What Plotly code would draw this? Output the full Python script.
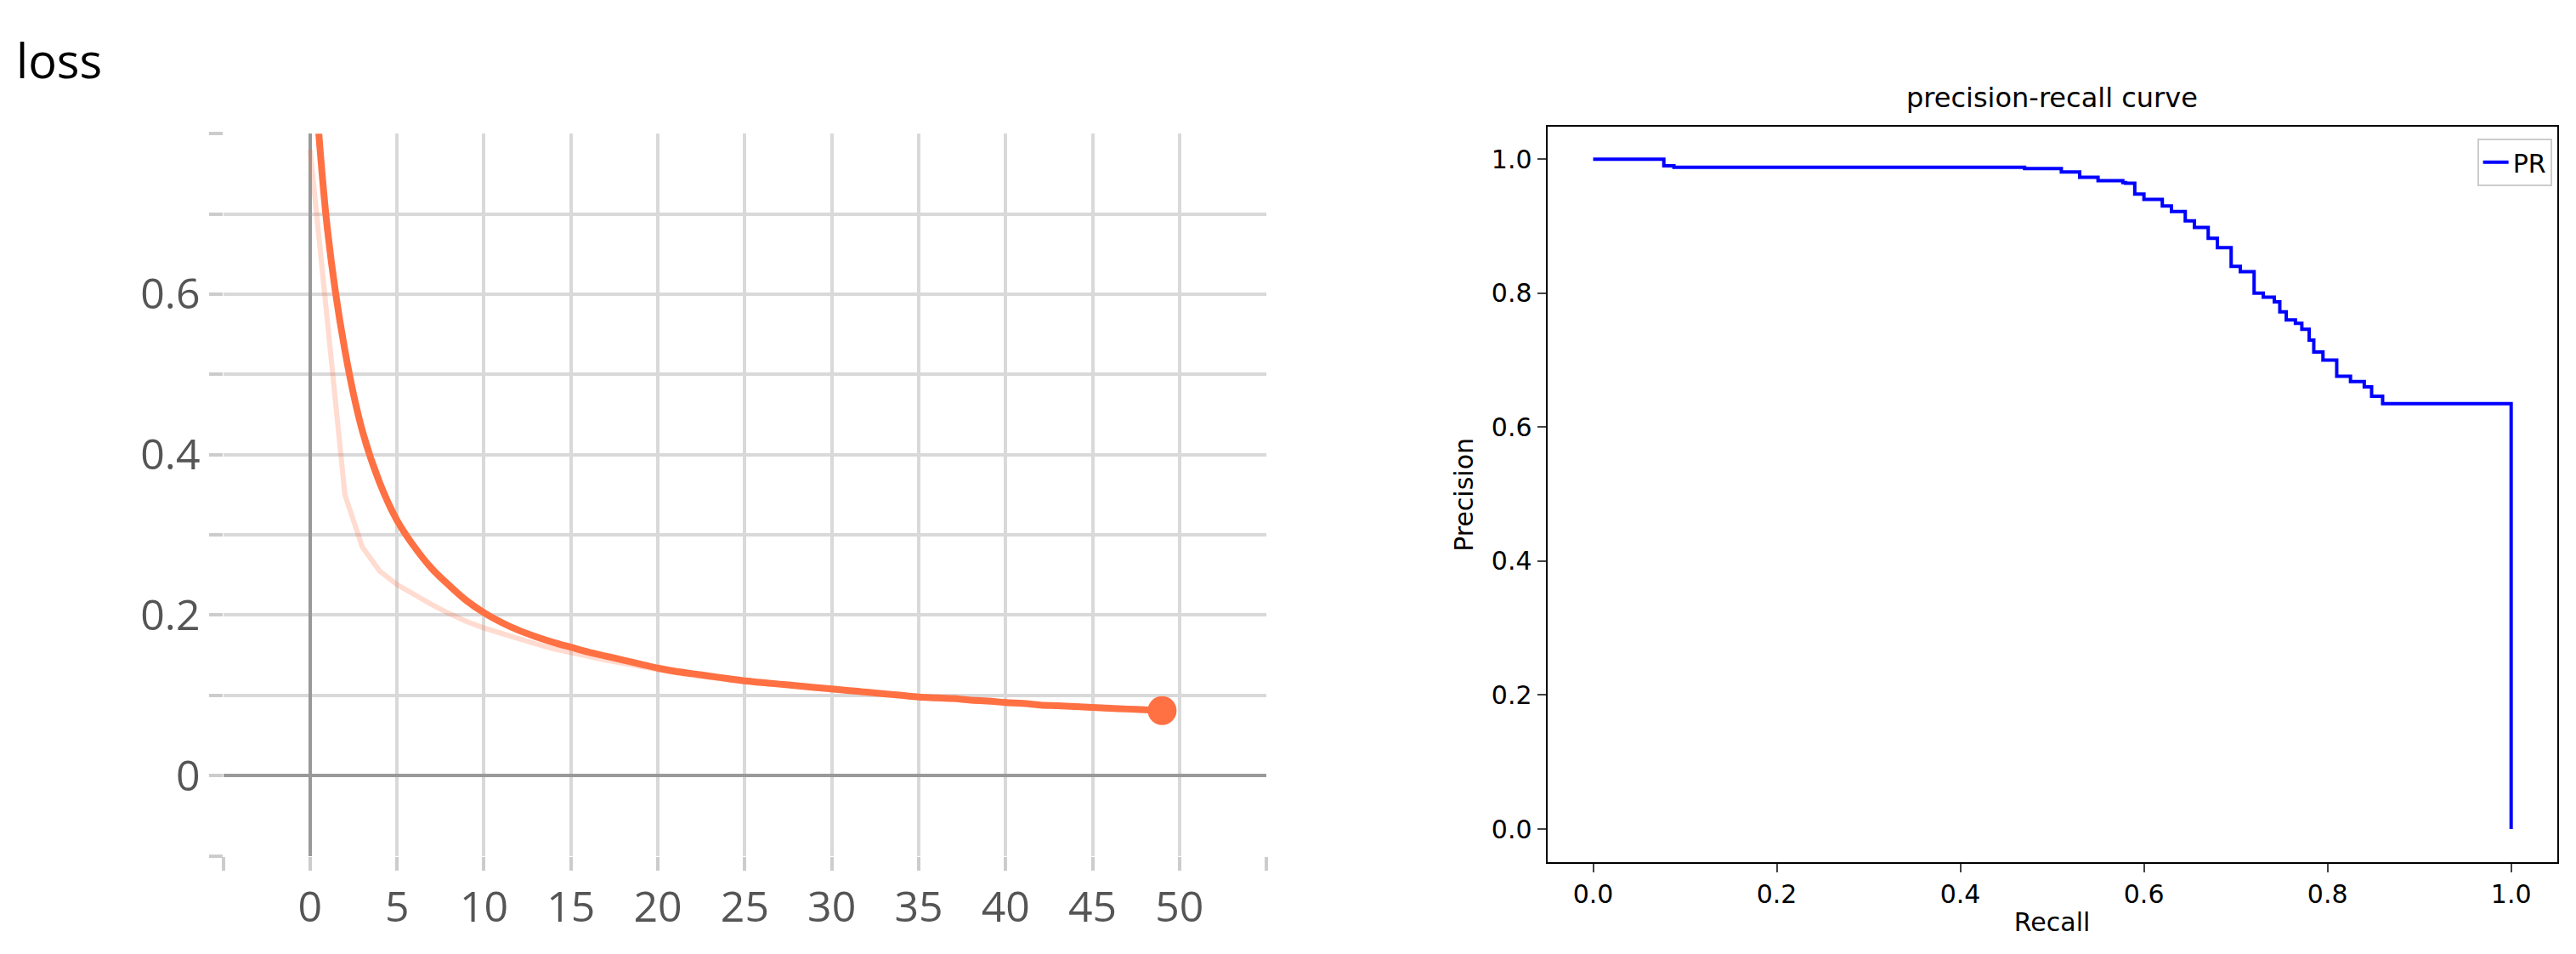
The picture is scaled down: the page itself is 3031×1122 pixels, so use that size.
import plotly.graph_objects as go

# loss curve (TensorBoard style): smoothed and raw
steps = list(range(50))
loss_smooth = [0.95, 0.68, 0.53, 0.43, 0.365, 0.318, 0.285, 0.258, 0.237, 0.218,
               0.203, 0.191, 0.181, 0.173, 0.166, 0.160, 0.154, 0.149, 0.144, 0.139,
               0.134, 0.130, 0.127, 0.124, 0.121, 0.118, 0.116, 0.114, 0.112, 0.110,
               0.108, 0.106, 0.104, 0.102, 0.100, 0.098, 0.097, 0.096, 0.094, 0.093,
               0.091, 0.090, 0.088, 0.087, 0.086, 0.085, 0.084, 0.083, 0.082, 0.081]
loss_raw = [0.78, 0.56, 0.35, 0.285, 0.255, 0.238, 0.225, 0.213, 0.202, 0.192,
            0.184, 0.177, 0.170, 0.164, 0.158, 0.153, 0.148, 0.144, 0.140, 0.136,
            0.131, 0.128, 0.125, 0.122, 0.119, 0.117, 0.115, 0.113, 0.111, 0.109,
            0.107, 0.105, 0.103, 0.101, 0.099, 0.097, 0.096, 0.095, 0.093, 0.092,
            0.090, 0.089, 0.088, 0.086, 0.085, 0.084, 0.083, 0.082, 0.081, 0.080]

# precision-recall curve
recall = [0.0, 0.077, 0.077, 0.088, 0.088, 0.43, 0.47, 0.51, 0.53, 0.55, 0.577, 0.58,
          0.59, 0.6, 0.62, 0.63, 0.645, 0.655, 0.67, 0.68, 0.695, 0.705, 0.72, 0.73,
          0.742, 0.748, 0.755, 0.765, 0.772, 0.78, 0.785, 0.795, 0.81, 0.825,
          0.84, 0.848, 0.86, 1.0]
precision = [1.0, 1.0, 0.99, 0.99, 0.988, 0.988, 0.986, 0.981, 0.973, 0.968, 0.965, 0.964,
             0.948, 0.94, 0.93, 0.922, 0.908, 0.898, 0.882, 0.868, 0.84, 0.832, 0.80, 0.794,
             0.787, 0.772, 0.76, 0.755, 0.746, 0.73, 0.712, 0.700, 0.676, 0.668,
             0.66, 0.646, 0.635, 0.0]

fig = go.Figure()
orange = "#ff7043"
fig.add_trace(go.Scatter(x=steps, y=loss_raw, mode="lines", line=dict(color="rgba(255,112,67,0.25)", width=6),
                         showlegend=False, xaxis="x", yaxis="y"))
fig.add_trace(go.Scatter(x=steps, y=loss_smooth, mode="lines", line=dict(color=orange, width=8),
                         line_shape="spline", showlegend=False, xaxis="x", yaxis="y"))
fig.add_trace(go.Scatter(x=[steps[-1]], y=[loss_smooth[-1]], mode="markers",
                         marker=dict(color=orange, size=34), showlegend=False, xaxis="x", yaxis="y"))
fig.add_trace(go.Scatter(x=recall, y=precision, mode="lines", name="PR", line_shape="hv",
                         line=dict(color="blue", width=4), xaxis="x2", yaxis="y2"))

xt = list(range(-5, 60, 5))
yt = [round(-0.1 + 0.1 * i, 1) for i in range(10)]
ylab = {0.0: "0", 0.2: "0.2", 0.4: "0.4", 0.6: "0.6"}
left_font = dict(family="Open Sans", size=50, color="#555555")
mpl_font = dict(family="DejaVu Sans", size=30, color="black")

fig.update_layout(
    width=3031, height=1122, paper_bgcolor="white", plot_bgcolor="white",
    margin=dict(l=0, r=0, t=0, b=0),
    xaxis=dict(domain=[0.084, 0.489], range=[-5, 55], tickvals=xt,
               ticktext=["" if v in (-5, 55) else str(v) for v in xt],
               showgrid=True, gridcolor="#d9d9d9", gridwidth=4,
               zeroline=True, zerolinecolor="#999999", zerolinewidth=4,
               ticks="outside", ticklen=16, tickcolor="#cccccc", tickwidth=4,
               tickfont=left_font, showline=False),
    yaxis=dict(domain=[0.11, 0.867], range=[-0.1, 0.8], tickvals=yt,
               ticktext=[ylab.get(v, "") for v in yt],
               showgrid=True, gridcolor="#d9d9d9", gridwidth=4,
               zeroline=True, zerolinecolor="#999999", zerolinewidth=4,
               ticks="outside", ticklen=16, tickcolor="#cccccc", tickwidth=4,
               tickfont=left_font, showline=False),
    xaxis2=dict(domain=[0.598, 0.990], range=[-0.05, 1.05], anchor="y2",
                tickvals=[0, 0.2, 0.4, 0.6, 0.8, 1.0], tickformat=".1f",
                showgrid=False, zeroline=False, showline=True, mirror=True,
                linecolor="black", linewidth=2, ticks="outside", ticklen=10, tickwidth=2,
                tickfont=mpl_font, title=dict(text="Recall", font=mpl_font, standoff=6)),
    yaxis2=dict(domain=[0.103, 0.874], range=[-0.05, 1.048], anchor="x2",
                tickvals=[0, 0.2, 0.4, 0.6, 0.8, 1.0], tickformat=".1f",
                showgrid=False, zeroline=False, showline=True, mirror=True,
                linecolor="black", linewidth=2, ticks="outside", ticklen=10, tickwidth=2,
                tickfont=mpl_font, title=dict(text="Precision", font=mpl_font, standoff=12)),
    legend=dict(x=0.988, y=0.862, xanchor="right", yanchor="top", bgcolor="white",
                bordercolor="#cccccc", borderwidth=2, font=mpl_font),
    annotations=[
        dict(text="loss", x=0.003, y=0.945, xref="paper", yref="paper", xanchor="left", yanchor="middle",
             showarrow=False, font=dict(family="Open Sans", size=56, color="black")),
        dict(text="precision-recall curve", x=0.794, y=0.905, xref="paper", yref="paper",
             xanchor="center", yanchor="middle", showarrow=False,
             font=dict(family="DejaVu Sans", size=32, color="black")),
    ],
)

fig.write_html("out.html")
